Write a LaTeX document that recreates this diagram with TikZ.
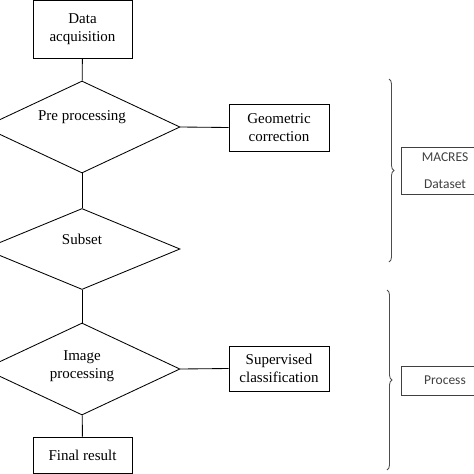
\documentclass[tikz,border=0pt]{standalone}
\usepackage{fontspec}
\setmainfont{Liberation Serif}
\newfontfamily\calib{Carlito}
\usetikzlibrary{shapes.geometric}
\usetikzlibrary{decorations.pathreplacing}
\begin{document}
\begin{tikzpicture} [x=1pt, y=-1pt, line width=.85pt,
  box/.style={draw, rectangle, align=center, inner sep=0, font=\fontsize{15}{18}\selectfont},
  decision/.style={draw, diamond, inner sep=0, minimum width=196, minimum height=92},
  side/.style={draw=black!75, rectangle, align=center, inner sep=0, minimum width=88, text=black!75, font=\calib\fontsize{13.5}{27}\selectfont},
  curly/.style={draw=black!70, decorate, decoration={brace, amplitude=5}}]
\useasboundingbox (0,0) rectangle (474,474);
\node[box, minimum width=99, minimum height=58] (data) at (82.5,29.5) {Data\\acquisition};
\node[decision, label={[name=pretxt, yshift=10, font=\fontsize{15}{18}\selectfont]center:Pre processing}] (pre) at (82,127) {};
\node[decision, minimum height=81, label={[name=subtxt, yshift=10, font=\fontsize{15}{18}\selectfont]center:Subset}] (subset) at (82,249) {};
\node[decision, label={[name=imgtxt, yshift=3, align=center, font=\fontsize{15}{18}\selectfont]center:Image\\processing}] (image) at (82,369) {};
\node[box, minimum width=99, minimum height=36] (final) at (82.5,455) {Final result};
\node[box, minimum width=100, minimum height=47] (geo) at (279,127.5) {Geometric\\correction};
\node[box, minimum width=100, minimum height=45] (sup) at (279,368.5) {Supervised\\classification};
\node[side, minimum height=47] (macres) at (445,170.5) {MACRES\\Dataset};
\node[side, minimum height=29] (process) at (445,380.5) {Process};
\draw (data) -- (pre);
\draw (pre) -- (subset);
\draw (subset) -- (image);
\draw (image) -- (final);
\draw (pre.east) -- (geo.west);
\draw (image.east) -- (sup.west);
\coordinate (b1top) at (389,79);
\coordinate (b1bot) at (389,262);
\coordinate (b2top) at (387,290);
\coordinate (b2bot) at (387,470);
\draw[curly] (b1top) -- (b1bot);
\draw[curly] (b2top) -- (b2bot);
\end{tikzpicture}
\end{document}
